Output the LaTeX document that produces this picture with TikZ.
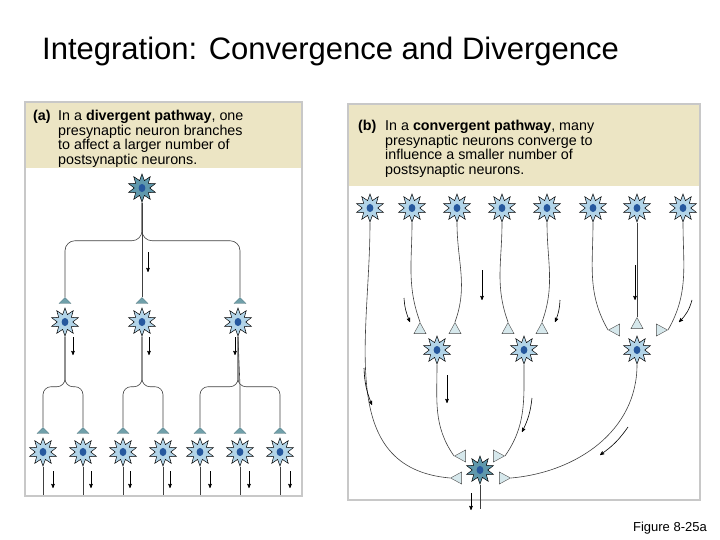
\documentclass[tikz,border=0pt]{standalone}
\usepackage{fontspec}
\setmainfont{Liberation Sans}
\usetikzlibrary{arrows,shapes.geometric}

\definecolor{beige}{RGB}{236,229,196}
\definecolor{cellblue}{RGB}{178,212,232}
\definecolor{celldark}{RGB}{95,152,172}
\definecolor{nucblue}{RGB}{38,88,158}
\definecolor{synteal}{RGB}{112,160,170}
\definecolor{synlight}{RGB}{214,232,236}
\definecolor{framegray}{RGB}{200,200,200}

\tikzset{
  neuron/.style={star, star points=10, star point ratio=1.8, minimum size=28pt,
                 inner sep=0pt, draw=black, line width=0.5pt, fill=cellblue},
  darkneuron/.style={neuron, fill=celldark},
  synA/.style={isosceles triangle, shape border rotate=90, isosceles triangle stretches,
               minimum width=12pt, minimum height=6pt, inner sep=0pt, fill=synteal, draw=synteal!70!black, line width=0.3pt},
  synB/.style={isosceles triangle, isosceles triangle stretches, minimum width=12pt,
               minimum height=11pt, inner sep=0pt, fill=synlight, draw=black!70, line width=0.4pt},
  axon/.style={draw=black!75, line width=0.6pt},
  flow/.style={->, >=stealth', line width=0.6pt},
  head/.style={anchor=north west, align=left, font=\fontsize{14.3}{14.7}\selectfont, inner sep=0pt}
}
\newcommand{\nuc}[1]{\fill[nucblue] (#1) ellipse (3.4pt and 4pt);}

\begin{document}
\begin{tikzpicture}[x=1pt,y=-1pt]
\useasboundingbox (0,0) rectangle (720,540);

\node[anchor=base west, inner sep=0pt, font=\fontsize{31}{36}\selectfont] (title) at (42,60) {Integration: Convergence and Divergence};

% panel (a)
\fill[beige] (25,102) rectangle (302,168);
\draw[framegray, line width=1.5pt] (25,102) rectangle (302,496);
\node[head, font=\fontsize{14.3}{14.7}\bfseries] (labA) at (33,110) {(a)};
\node[head] (txtA) at (58,110) {In a \textbf{divergent pathway}, one\\presynaptic neuron branches\\to affect a larger number of\\postsynaptic neurons.};

\node[darkneuron] (pre) at (142,188) {};
\node[synA] (sa1) at (65,301) {};
\node[synA] (sa2) at (142,301) {};
\node[synA] (sa3) at (240,301) {};
\node[neuron] (mA) at (65,322) {};
\node[neuron] (mB) at (142,322) {};
\node[neuron] (mC) at (238,322) {};
\foreach \x [count=\i] in {43,83,123,163,200,240,280}{
  \node[synA] (sb\i) at (\x,431) {};
  \node[neuron] (pb\i) at (\x,452) {};
  \draw[axon] (pb\i.south) -- ++(0,28);
}
\foreach \n in {pre,mA,mB,mC,pb1,pb2,pb3,pb4,pb5,pb6,pb7}{\nuc{\n}}

\draw[axon, rounded corners=10] (pre.south) -- ++(0,38) -| (sa1.north);
\draw[axon, rounded corners=10] (pre.south) -- ++(0,38) -| (sa3.north);
\draw[axon] (pre.south) -- (sa2.north);
\draw[axon, rounded corners=8] (mA.south) -- ++(0,50) -| (sb1.north);
\draw[axon, rounded corners=8] (mA.south) -- ++(0,50) -| (sb2.north);
\draw[axon, rounded corners=8] (mB.south) -- ++(0,50) -| (sb3.north);
\draw[axon, rounded corners=8] (mB.south) -- ++(0,50) -| (sb4.north);
\draw[axon, rounded corners=8] (mC.south) -- ++(0,50) -| (sb5.north);
\draw[axon, rounded corners=8] (mC.south) -- ++(0,50) -| (sb7.north);
\draw[axon] (mC.south) -- ++(2,50) -- (sb6.north);

\draw[flow] (148,252) -- (148,272);
\foreach \x in {73,149,235}{\draw[flow] (\x,337) -- (\x,355);}
\foreach \x in {53,91,130,170,210,249,290}{\draw[flow] (\x,471) -- (\x,488);}

% panel (b)
\fill[beige] (348,104) rectangle (700,186);
\draw[framegray, line width=1.5pt] (348,104) rectangle (700,500);
\node[head, font=\fontsize{14.3}{14.7}\bfseries] (labB) at (358,120) {(b)};
\node[head] (txtB) at (385,120) {In a \textbf{convergent pathway}, many\\presynaptic neurons converge to\\influence a smaller number of\\postsynaptic neurons.};

\foreach \x [count=\i] in {370,412,457,502,547,593,637,683}{
  \node[neuron] (t\i) at (\x,208) {};
  \nuc{t\i}
}
\node[neuron] (c1) at (437,350) {};
\node[neuron] (c2) at (524,350) {};
\node[neuron] (c3) at (637,350) {};
\node[darkneuron] (out) at (480,470) {};
\foreach \n in {c1,c2,c3,out}{\nuc{\n}}

\node[synB, shape border rotate=130]  (s1) at (420,330) {};
\node[synB, shape border rotate=50]   (s2) at (455,330) {};
\node[synB, shape border rotate=130]  (s3) at (508,330) {};
\node[synB, shape border rotate=50]   (s4) at (542,330) {};
\node[synB, shape border rotate=150]  (s5) at (616,330) {};
\node[synB, shape border rotate=90]   (s6) at (637,325) {};
\node[synB, shape border rotate=30]   (s7) at (660,330) {};
\node[synB, shape border rotate=180]  (q1) at (458,478) {};
\node[synB, shape border rotate=140]  (q2) at (462,456) {};
\node[synB, shape border rotate=40]   (q3) at (497,456) {};
\node[synB, shape border rotate=0]    (q4) at (503,478) {};

\draw[axon] (t1.south) to[out=-90, in=175, looseness=1.1] (q1.apex);
\draw[axon] (t2.south) to[out=-90, in=110] (s1.apex);
\draw[axon] (t3.south) to[out=-90, in=70] (s2.apex);
\draw[axon] (t4.south) to[out=-90, in=110] (s3.apex);
\draw[axon] (t5.south) to[out=-90, in=70] (s4.apex);
\draw[axon] (t6.south) to[out=-90, in=120] (s5.apex);
\draw[axon] (t7.south) -- (s6.apex);
\draw[axon] (t8.south) to[out=-90, in=60] (s7.apex);
\draw[axon] (c1.south) to[out=-90, in=125] (q2.apex);
\draw[axon] (c2.south) to[out=-90, in=55] (q3.apex);
\draw[axon] (c3.south) to[out=-90, in=5] (q4.apex);
\draw[axon] (out.south) -- ++(0,24);

\draw[flow] (482,270) -- (482,300);
\draw[flow] (635,265) -- (635,300);
\draw[flow] (404,298) to[bend right=10] (410,322);
\draw[flow] (560,300) to[bend left=10] (555,322);
\draw[flow] (692,300) to[bend left=15] (679,322);
\draw[flow] (447,375) -- (447,403);
\draw[flow] (532,398) to[bend left=10] (522,432);
\draw[flow] (364,368) to[bend right=10] (372,405);
\draw[flow] (628,427) to[bend left=10] (600,455);
\draw[flow] (471,493) -- (471,510);

\node[anchor=base east, inner sep=0pt, font=\fontsize{13}{15}\selectfont] (fig) at (707,531) {Figure 8-25a};
\end{tikzpicture}
\end{document}
